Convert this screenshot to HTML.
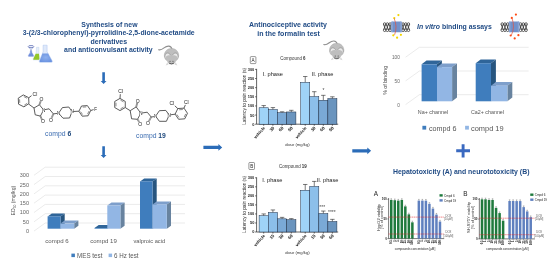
<!DOCTYPE html>
<html lang="en"><head><meta charset="utf-8"><title>Graphical abstract</title>
<style>html,body{margin:0;padding:0;background:#fff;}body{width:550px;height:280px;overflow:hidden;}svg{display:block;}svg text{font-family:"Liberation Sans", sans-serif;}</style></head><body>
<svg width="550" height="280" viewBox="0 0 550 280">
<rect width="550" height="280" fill="#fff"/>
<g id="left-title">
<text x="109.40" y="26.50" font-size="7.1" fill="#1f4a84" text-anchor="middle" font-weight="bold" textLength="56.2" lengthAdjust="spacingAndGlyphs">Synthesis of new</text>
<text x="108.70" y="35.30" font-size="7.1" fill="#1f4a84" text-anchor="middle" font-weight="bold" textLength="172" lengthAdjust="spacingAndGlyphs">3-(2/3-chlorophenyl)-pyrrolidine-2,5-dione-acetamide</text>
<text x="108.80" y="43.80" font-size="7.1" fill="#1f4a84" text-anchor="middle" font-weight="bold" textLength="36.6" lengthAdjust="spacingAndGlyphs">derivatives</text>
<text x="108.40" y="52.00" font-size="7.1" fill="#1f4a84" text-anchor="middle" font-weight="bold" textLength="88.6" lengthAdjust="spacingAndGlyphs">and anticonvulsant activity</text>
</g>
<defs><radialGradient id="liq" cx="0.5" cy="0.45" r="0.6"><stop offset="0" stop-color="#8db0ee"/><stop offset="1" stop-color="#6a92e0"/></radialGradient></defs>
<g id="flasks" transform="translate(0,0.4)">
<path d="M28.6,46.6 L30.5,49.2 L30.5,50.6 L31.5,50.6 L31.5,49.2 L33.4,46.6 Z" fill="#dfe6f7" stroke="#7d8fc8" stroke-width="0.4"/>
<ellipse cx="31" cy="46.2" rx="2.8" ry="1.1" fill="#f2f5fc" stroke="#5566b0" stroke-width="0.7"/>
<path d="M30.3,50.4 L31.7,50.4 L31.9,52 L33.7,55.2 Q33.9,56.1 33.1,56.1 L28.9,56.1 Q28.1,56.1 28.3,55.2 L30.1,52 Z" fill="#6f8ddb" stroke="#93a9e6" stroke-width="0.4"/>
<path d="M29.6,53.6 L30.5,52.2" stroke="#c5d2f3" stroke-width="0.5"/>
<path d="M36.5,46.9 L38.9,46.9 L38.9,52.6 L39.6,58.6 Q39.6,59.5 38.7,59.5 L33.6,59.5 Q32.7,59.4 33.1,58.5 L36.1,52.8 Z" fill="#e6eefa" stroke="#b9cdec" stroke-width="0.4"/>
<path d="M35.7,53.4 L39.0,53.4 L39.4,58.6 Q39.4,59.3 38.7,59.3 L33.8,59.3 Q33.0,59.2 33.3,58.5 Z" fill="#93c62a"/>
<path d="M43.1,44.8 L47.1,44.8 L47.1,51.4 L52.3,60.6 Q52.7,62 51.4,62 L40.1,62 Q38.8,62 39.3,60.6 L43.1,51.4 Z" fill="#dfe9fa" stroke="#a9c3ee" stroke-width="0.5"/>
<path d="M42.5,53.2 L48.1,53.2 L52.0,60.6 Q52.3,61.7 51.3,61.7 L40.2,61.7 Q39.3,61.7 39.6,60.6 Z" fill="url(#liq)"/>
</g>
<g transform="translate(171.50,55.50) scale(0.98,0.96)">
<path d="M0.4,-6.8 C-0.4,-10.8 -4.8,-10.2 -7.6,-7.9 C-9.6,-6.3 -11,-5.2 -13.1,-6" fill="none" stroke="#8f8f8f" stroke-width="1.2" stroke-linecap="round"/>
<path d="M-4.4,7.4 L-6,10.4 L-3.0,9.4 Z M4.4,7.4 L6,10.4 L3.0,9.4 Z" fill="#d6d6d6"/>
<path d="M0,-7.3 C4.6,-7.3 7.4,-3.9 7.3,0.3 C7.2,3.3 5.6,5 4,5.8 C3.6,8 2,9.1 0,9.1 C-2,9.1 -3.6,8 -4,5.8 C-5.6,5 -7.2,3.3 -7.3,0.3 C-7.4,-3.9 -4.6,-7.3 0,-7.3 Z" fill="#bebebe" stroke="#a6a6a6" stroke-width="0.5"/>
<g transform="translate(0,-1.5) scale(1.0,1.25)">
<path d="M-6.6,3.4 C-7,-0.6 -3.2,-1.8 -1.0,1.4 C-2.6,0.6 -5.4,1 -6.6,3.4 Z" fill="#e9e9e9"/>
<path d="M6.6,3.4 C7,-0.6 3.2,-1.8 1.0,1.4 C2.6,0.6 5.4,1 6.6,3.4 Z" fill="#e9e9e9"/>
<path d="M-6.8,2.6 C-7,-1.2 -3.2,-2.4 -0.9,0.9" fill="none" stroke="#969696" stroke-width="0.5"/>
<path d="M6.8,2.6 C7,-1.2 3.2,-2.4 0.9,0.9" fill="none" stroke="#969696" stroke-width="0.5"/>
</g>
<circle cx="-1.5" cy="6.0" r="0.55" fill="#444"/><circle cx="1.5" cy="6.0" r="0.55" fill="#444"/>
<path d="M-2.6,7.9 Q0,9.4 2.6,7.9" stroke="#4a4a4a" stroke-width="0.8" fill="none"/>
</g>
<path d="M102.3,72.3 L104.89999999999999,72.3 L104.89999999999999,81.0 L106.5,81.0 L103.6,84 L100.69999999999999,81.0 L102.3,81.0 Z" fill="#2b6cb8"/>
<g id="mol6">
<path d="M28.95,103.62 L23.91,106.89 L18.57,104.17 L18.25,98.18 L23.29,94.91 L28.63,97.63 Z" fill="none" stroke="#333333" stroke-width="0.8"/>
<path d="M27.22,103.25 L24.28,105.17" stroke="#333333" stroke-width="0.55"/>
<path d="M19.75,102.86 L19.57,99.35" stroke="#333333" stroke-width="0.55"/>
<path d="M23.83,96.59 L26.96,98.18" stroke="#333333" stroke-width="0.55"/>
<path d="M28.90,97.70 L31.60,95.60" fill="none" stroke="#333333" stroke-width="0.8"/>
<rect x="31.90" y="91.90" width="6.00" height="4.20" fill="#fff"/>
<text x="34.90" y="95.80" font-size="5.0" fill="#222" text-anchor="middle">Cl</text>
<path d="M28.70,104.10 L34.00,108.00" fill="none" stroke="#333333" stroke-width="0.8"/>
<path d="M34.00,108.00 L39.40,104.80 L43.60,109.90 L40.40,116.10 L35.20,114.80 L34.00,108.00" fill="none" stroke="#333333" stroke-width="0.8"/>
<path d="M39.82,104.95 L41.32,100.75" fill="none" stroke="#333333" stroke-width="0.55"/>
<path d="M38.98,104.65 L40.48,100.45" fill="none" stroke="#333333" stroke-width="0.55"/>
<rect x="40.00" y="96.90" width="3.00" height="4.20" fill="#fff"/>
<text x="41.50" y="100.80" font-size="5.0" fill="#222" text-anchor="middle">O</text>
<path d="M39.99,116.28 L41.79,120.38" fill="none" stroke="#333333" stroke-width="0.55"/>
<path d="M40.81,115.92 L42.61,120.02" fill="none" stroke="#333333" stroke-width="0.55"/>
<rect x="41.40" y="119.50" width="3.00" height="4.20" fill="#fff"/>
<text x="42.90" y="123.40" font-size="5.0" fill="#222" text-anchor="middle">O</text>
<path d="M43.60,109.90 L49.10,108.80 L53.40,113.90 L58.60,113.20" fill="none" stroke="#333333" stroke-width="0.8"/>
<path d="M52.99,113.72 L51.09,118.02" fill="none" stroke="#333333" stroke-width="0.55"/>
<path d="M53.81,114.08 L51.91,118.38" fill="none" stroke="#333333" stroke-width="0.55"/>
<rect x="49.40" y="117.80" width="3.00" height="4.20" fill="#fff"/>
<text x="50.90" y="121.70" font-size="5.0" fill="#222" text-anchor="middle">O</text>
<path d="M58.60,113.20 L62.40,107.60 L68.80,107.00 L72.00,111.50 L69.60,118.00 L63.00,118.20 L58.60,113.20" fill="none" stroke="#333333" stroke-width="0.8"/>
<rect x="42.25" y="108.21" width="2.70" height="3.78" fill="#fff"/>
<text x="43.60" y="111.72" font-size="4.5" fill="#222" text-anchor="middle">N</text>
<rect x="57.25" y="111.31" width="2.70" height="3.78" fill="#fff"/>
<text x="58.60" y="114.82" font-size="4.5" fill="#222" text-anchor="middle">N</text>
<rect x="70.65" y="109.61" width="2.70" height="3.78" fill="#fff"/>
<text x="72.00" y="113.12" font-size="4.5" fill="#222" text-anchor="middle">N</text>
<path d="M73.30,111.50 L78.90,111.20" fill="none" stroke="#333333" stroke-width="0.8"/>
<path d="M90.69,110.49 L88.10,115.79 L82.21,116.20 L78.91,111.31 L81.50,106.01 L87.39,105.60 Z" fill="none" stroke="#333333" stroke-width="0.8"/>
<path d="M89.05,111.05 L87.53,114.15" stroke="#333333" stroke-width="0.55"/>
<path d="M82.55,114.50 L80.62,111.64" stroke="#333333" stroke-width="0.55"/>
<path d="M82.81,107.15 L86.25,106.91" stroke="#333333" stroke-width="0.55"/>
<path d="M90.70,110.50 L93.60,109.60" fill="none" stroke="#333333" stroke-width="0.8"/>
<rect x="94.25" y="107.31" width="2.70" height="3.78" fill="#fff"/>
<text x="95.60" y="110.82" font-size="4.5" fill="#222" text-anchor="middle">F</text>
</g>
<text x="58.20" y="136.30" font-size="6.9" fill="#3b6cb0" text-anchor="middle" textLength="26.2" lengthAdjust="spacingAndGlyphs">compd <tspan font-weight="bold" fill="#1f497d">6</tspan></text>
<g id="mol19">
<path d="M125.28,107.55 L120.00,110.60 L114.72,107.55 L114.72,101.45 L120.00,98.40 L125.28,101.45 Z" fill="none" stroke="#333333" stroke-width="0.8"/>
<path d="M123.55,107.08 L120.46,108.87" stroke="#333333" stroke-width="0.55"/>
<path d="M115.99,106.29 L115.99,102.71" stroke="#333333" stroke-width="0.55"/>
<path d="M120.46,100.13 L123.55,101.92" stroke="#333333" stroke-width="0.55"/>
<path d="M120.00,98.40 L120.30,94.20" fill="none" stroke="#333333" stroke-width="0.8"/>
<rect x="117.60" y="89.40" width="6.00" height="4.20" fill="#fff"/>
<text x="120.60" y="93.30" font-size="5.0" fill="#222" text-anchor="middle">Cl</text>
<path d="M125.30,107.60 L130.20,110.70" fill="none" stroke="#333333" stroke-width="0.8"/>
<path d="M130.20,110.70 L136.20,106.90 L140.80,113.20 L137.50,119.30 L131.60,118.80 L130.20,110.70" fill="none" stroke="#333333" stroke-width="0.8"/>
<path d="M136.63,107.02 L137.73,102.92" fill="none" stroke="#333333" stroke-width="0.55"/>
<path d="M135.77,106.78 L136.87,102.68" fill="none" stroke="#333333" stroke-width="0.55"/>
<rect x="136.30" y="98.80" width="3.00" height="4.20" fill="#fff"/>
<text x="137.80" y="102.70" font-size="5.0" fill="#222" text-anchor="middle">O</text>
<path d="M137.12,119.54 L139.02,122.64" fill="none" stroke="#333333" stroke-width="0.55"/>
<path d="M137.88,119.06 L139.78,122.16" fill="none" stroke="#333333" stroke-width="0.55"/>
<rect x="138.70" y="121.80" width="3.00" height="4.20" fill="#fff"/>
<text x="140.20" y="125.70" font-size="5.0" fill="#222" text-anchor="middle">O</text>
<path d="M140.80,113.20 L147.20,112.20 L151.20,117.00 L156.00,116.40" fill="none" stroke="#333333" stroke-width="0.8"/>
<path d="M150.80,116.78 L148.40,121.18" fill="none" stroke="#333333" stroke-width="0.55"/>
<path d="M151.60,117.22 L149.20,121.62" fill="none" stroke="#333333" stroke-width="0.55"/>
<rect x="146.50" y="120.90" width="3.00" height="4.20" fill="#fff"/>
<text x="148.00" y="124.80" font-size="5.0" fill="#222" text-anchor="middle">O</text>
<path d="M155.60,116.20 L159.40,110.70 L165.80,110.40 L169.20,115.00 L166.40,121.30 L159.40,121.30 L155.60,116.20" fill="none" stroke="#333333" stroke-width="0.8"/>
<rect x="139.45" y="111.51" width="2.70" height="3.78" fill="#fff"/>
<text x="140.80" y="115.02" font-size="4.5" fill="#222" text-anchor="middle">N</text>
<rect x="154.25" y="114.31" width="2.70" height="3.78" fill="#fff"/>
<text x="155.60" y="117.82" font-size="4.5" fill="#222" text-anchor="middle">N</text>
<rect x="167.85" y="113.11" width="2.70" height="3.78" fill="#fff"/>
<text x="169.20" y="116.62" font-size="4.5" fill="#222" text-anchor="middle">N</text>
<path d="M170.50,114.80 L175.10,114.20" fill="none" stroke="#333333" stroke-width="0.8"/>
<path d="M187.48,113.27 L184.77,118.84 L178.58,119.27 L175.12,114.13 L177.83,108.56 L184.02,108.13 Z" fill="none" stroke="#333333" stroke-width="0.8"/>
<path d="M185.76,113.86 L184.17,117.12" stroke="#333333" stroke-width="0.55"/>
<path d="M178.93,117.49 L176.90,114.48" stroke="#333333" stroke-width="0.55"/>
<path d="M179.20,109.76 L182.83,109.51" stroke="#333333" stroke-width="0.55"/>
<path d="M177.80,108.60 L174.60,105.60" fill="none" stroke="#333333" stroke-width="0.8"/>
<rect x="168.80" y="101.40" width="6.00" height="4.20" fill="#fff"/>
<text x="171.80" y="105.30" font-size="5.0" fill="#222" text-anchor="middle">Cl</text>
<path d="M184.00,108.10 L185.40,104.80" fill="none" stroke="#333333" stroke-width="0.8"/>
<rect x="183.30" y="100.30" width="6.00" height="4.20" fill="#fff"/>
<text x="186.30" y="104.20" font-size="5.0" fill="#222" text-anchor="middle">Cl</text>
</g>
<text x="151.00" y="138.10" font-size="6.9" fill="#3b6cb0" text-anchor="middle" textLength="29.8" lengthAdjust="spacingAndGlyphs">compd <tspan font-weight="bold" fill="#1f497d">19</tspan></text>
<path d="M102.3,146.2 L104.89999999999999,146.2 L104.89999999999999,155.1 L106.5,155.1 L103.6,158.1 L100.69999999999999,155.1 L102.3,155.1 Z" fill="#2b6cb8"/>
<g id="ed50">
<path d="M34,231.10 L45.2,223.00 L185,223.00" fill="none" stroke="#d6d6d6" stroke-width="0.5"/>
<text x="29.00" y="233.00" font-size="6.2" fill="#666" text-anchor="end" textLength="3.07" lengthAdjust="spacingAndGlyphs">0</text>
<path d="M34,221.80 L45.2,213.70 L185,213.70" fill="none" stroke="#d6d6d6" stroke-width="0.5"/>
<text x="29.00" y="223.70" font-size="6.2" fill="#666" text-anchor="end" textLength="6.14" lengthAdjust="spacingAndGlyphs">50</text>
<path d="M34,212.50 L45.2,204.40 L185,204.40" fill="none" stroke="#d6d6d6" stroke-width="0.5"/>
<text x="29.00" y="214.40" font-size="6.2" fill="#666" text-anchor="end" textLength="9.21" lengthAdjust="spacingAndGlyphs">100</text>
<path d="M34,203.20 L45.2,195.10 L185,195.10" fill="none" stroke="#d6d6d6" stroke-width="0.5"/>
<text x="29.00" y="205.10" font-size="6.2" fill="#666" text-anchor="end" textLength="9.21" lengthAdjust="spacingAndGlyphs">150</text>
<path d="M34,193.90 L45.2,185.80 L185,185.80" fill="none" stroke="#d6d6d6" stroke-width="0.5"/>
<text x="29.00" y="195.80" font-size="6.2" fill="#666" text-anchor="end" textLength="9.21" lengthAdjust="spacingAndGlyphs">200</text>
<path d="M34,184.60 L45.2,176.50 L185,176.50" fill="none" stroke="#d6d6d6" stroke-width="0.5"/>
<text x="29.00" y="186.50" font-size="6.2" fill="#666" text-anchor="end" textLength="9.21" lengthAdjust="spacingAndGlyphs">250</text>
<path d="M34,175.30 L45.2,167.20 L185,167.20" fill="none" stroke="#d6d6d6" stroke-width="0.5"/>
<text x="29.00" y="177.20" font-size="6.2" fill="#666" text-anchor="end" textLength="9.21" lengthAdjust="spacingAndGlyphs">300</text>
<text x="0.00" y="0.00" font-size="4.6" fill="#555" text-anchor="middle" textLength="29.6" lengthAdjust="spacingAndGlyphs" transform="translate(15.0,200.6) rotate(-90)">ED<tspan font-size="3" dy="0.8">50</tspan><tspan dy="-0.8"> (mg/kg)</tspan></text>
<path d="M47.60,216.40 L51.80,213.40 L64.70,213.40 L60.50,216.40 Z" fill="#2f6599"/>
<path d="M60.50,216.40 L64.70,213.40 L64.70,225.70 L60.50,228.70 Z" fill="#27557f"/>
<rect x="47.60" y="216.40" width="12.90" height="12.30" fill="#3f7dbd"/>
<path d="M60.50,223.60 L64.70,220.60 L78.40,220.60 L74.20,223.60 Z" fill="#7e9fcb"/>
<path d="M74.20,223.60 L78.40,220.60 L78.40,225.70 L74.20,228.70 Z" fill="#68839f"/>
<rect x="60.50" y="223.60" width="13.70" height="5.10" fill="#92b6e4"/>
<path d="M94.50,228.00 L98.70,225.00 L111.50,225.00 L107.30,228.00 Z" fill="#2f6599"/>
<path d="M107.30,228.00 L111.50,225.00 L111.50,225.70 L107.30,228.70 Z" fill="#27557f"/>
<rect x="94.50" y="228.00" width="12.80" height="0.70" fill="#3f7dbd"/>
<path d="M107.30,205.50 L111.50,202.50 L124.60,202.50 L120.40,205.50 Z" fill="#7e9fcb"/>
<path d="M120.40,205.50 L124.60,202.50 L124.60,225.70 L120.40,228.70 Z" fill="#68839f"/>
<rect x="107.30" y="205.50" width="13.10" height="23.20" fill="#92b6e4"/>
<path d="M140.00,181.40 L144.20,178.40 L156.70,178.40 L152.50,181.40 Z" fill="#2f6599"/>
<path d="M152.50,181.40 L156.70,178.40 L156.70,225.70 L152.50,228.70 Z" fill="#27557f"/>
<rect x="140.00" y="181.40" width="12.50" height="47.30" fill="#3f7dbd"/>
<path d="M152.50,204.40 L156.70,201.40 L171.00,201.40 L166.80,204.40 Z" fill="#7e9fcb"/>
<path d="M166.80,204.40 L171.00,201.40 L171.00,225.70 L166.80,228.70 Z" fill="#68839f"/>
<rect x="152.50" y="204.40" width="14.30" height="24.30" fill="#92b6e4"/>
<text x="57.00" y="242.50" font-size="6.1" fill="#595959" text-anchor="middle" textLength="23.4" lengthAdjust="spacingAndGlyphs">compd 6</text>
<text x="103.50" y="242.50" font-size="6.1" fill="#595959" text-anchor="middle" textLength="26.5" lengthAdjust="spacingAndGlyphs">compd 19</text>
<text x="149.30" y="242.50" font-size="6.1" fill="#595959" text-anchor="middle" textLength="31.6" lengthAdjust="spacingAndGlyphs">valproic acid</text>
<rect x="71.4" y="253.6" width="3.5" height="3.5" fill="#3f7dbd"/>
<text x="77.00" y="257.80" font-size="7.0" fill="#595959" text-anchor="start" textLength="25.4" lengthAdjust="spacingAndGlyphs">MES test</text>
<rect x="108.6" y="253.6" width="3.5" height="3.5" fill="#92b6e4"/>
<text x="114.00" y="257.80" font-size="7.0" fill="#595959" text-anchor="start" textLength="24.6" lengthAdjust="spacingAndGlyphs">6 Hz test</text>
</g>
<path d="M203.4,145.8 L218.39999999999998,145.8 L218.39999999999998,144.0 L222.2,147.4 L218.39999999999998,150.8 L218.39999999999998,149.0 L203.4,149.0 Z" fill="#2b6cb8"/>
<g id="mid-title">
<text x="288.00" y="27.20" font-size="7.6" fill="#1f4a84" text-anchor="middle" font-weight="bold" textLength="78" lengthAdjust="spacingAndGlyphs">Antinociceptive activity</text>
<text x="288.50" y="35.80" font-size="7.6" fill="#1f4a84" text-anchor="middle" font-weight="bold" textLength="62.6" lengthAdjust="spacingAndGlyphs">in the formalin test</text>
</g>
<g transform="translate(336.70,50.30) scale(0.98,0.96)">
<path d="M0.4,-6.8 C-0.4,-10.8 -4.8,-10.2 -7.6,-7.9 C-9.6,-6.3 -11,-5.2 -13.1,-6" fill="none" stroke="#8f8f8f" stroke-width="1.2" stroke-linecap="round"/>
<path d="M-4.4,7.4 L-6,10.4 L-3.0,9.4 Z M4.4,7.4 L6,10.4 L3.0,9.4 Z" fill="#d6d6d6"/>
<path d="M0,-7.3 C4.6,-7.3 7.4,-3.9 7.3,0.3 C7.2,3.3 5.6,5 4,5.8 C3.6,8 2,9.1 0,9.1 C-2,9.1 -3.6,8 -4,5.8 C-5.6,5 -7.2,3.3 -7.3,0.3 C-7.4,-3.9 -4.6,-7.3 0,-7.3 Z" fill="#bebebe" stroke="#a6a6a6" stroke-width="0.5"/>
<g transform="translate(0,-1.5) scale(1.0,1.25)">
<path d="M-6.6,3.4 C-7,-0.6 -3.2,-1.8 -1.0,1.4 C-2.6,0.6 -5.4,1 -6.6,3.4 Z" fill="#e9e9e9"/>
<path d="M6.6,3.4 C7,-0.6 3.2,-1.8 1.0,1.4 C2.6,0.6 5.4,1 6.6,3.4 Z" fill="#e9e9e9"/>
<path d="M-6.8,2.6 C-7,-1.2 -3.2,-2.4 -0.9,0.9" fill="none" stroke="#969696" stroke-width="0.5"/>
<path d="M6.8,2.6 C7,-1.2 3.2,-2.4 0.9,0.9" fill="none" stroke="#969696" stroke-width="0.5"/>
</g>
<circle cx="-1.5" cy="6.0" r="0.55" fill="#444"/><circle cx="1.5" cy="6.0" r="0.55" fill="#444"/>
<path d="M-2.6,7.9 Q0,9.4 2.6,7.9" stroke="#4a4a4a" stroke-width="0.8" fill="none"/>
</g>
<g id="formA">
<rect x="250.3" y="56.6" width="5.6" height="7" rx="0.8" fill="#fff" stroke="#333" stroke-width="0.5"/>
<text x="253.10" y="61.80" font-size="4.6" fill="#222" text-anchor="middle">A</text>
<text x="292.90" y="59.60" font-size="4.6" fill="#333" text-anchor="middle" textLength="25.3" lengthAdjust="spacingAndGlyphs">Compound <tspan font-weight="bold">6</tspan></text>
<path d="M256.6,68.90 L256.6,124.20 L338.2,124.20" fill="none" stroke="#222" stroke-width="0.7"/>
<path d="M255.00000000000003,124.20 L256.6,124.20" stroke="#222" stroke-width="0.6"/>
<text x="254.30" y="125.65" font-size="3.9" fill="#222" text-anchor="end" font-weight="bold">0</text>
<path d="M255.00000000000003,115.07 L256.6,115.07" stroke="#222" stroke-width="0.6"/>
<text x="254.30" y="116.52" font-size="3.9" fill="#222" text-anchor="end" font-weight="bold">50</text>
<path d="M255.00000000000003,105.93 L256.6,105.93" stroke="#222" stroke-width="0.6"/>
<text x="254.30" y="107.38" font-size="3.9" fill="#222" text-anchor="end" font-weight="bold">100</text>
<path d="M255.00000000000003,96.80 L256.6,96.80" stroke="#222" stroke-width="0.6"/>
<text x="254.30" y="98.25" font-size="3.9" fill="#222" text-anchor="end" font-weight="bold">150</text>
<path d="M255.00000000000003,87.67 L256.6,87.67" stroke="#222" stroke-width="0.6"/>
<text x="254.30" y="89.12" font-size="3.9" fill="#222" text-anchor="end" font-weight="bold">200</text>
<path d="M255.00000000000003,78.53 L256.6,78.53" stroke="#222" stroke-width="0.6"/>
<text x="254.30" y="79.98" font-size="3.9" fill="#222" text-anchor="end" font-weight="bold">250</text>
<path d="M255.00000000000003,69.40 L256.6,69.40" stroke="#222" stroke-width="0.6"/>
<text x="254.30" y="70.85" font-size="3.9" fill="#222" text-anchor="end" font-weight="bold">300</text>
<text x="0.00" y="0.00" font-size="4.8" fill="#333" text-anchor="middle" textLength="57" lengthAdjust="spacingAndGlyphs" transform="translate(245.6,96.30) rotate(-90)">Latency to pain reaction (s)</text>
<path d="M263.70,107.76 L263.70,105.57 M261.50,105.57 L265.90,105.57" stroke="#222" stroke-width="0.6" fill="none"/>
<rect x="259.10" y="107.76" width="9.20" height="16.44" fill="#9fd3f7" stroke="#1c2c44" stroke-width="0.5"/>
<path d="M263.70,124.20 L263.70,125.80" stroke="#222" stroke-width="0.6"/>
<text x="0.00" y="0.00" font-size="4.3" fill="#222" text-anchor="end" font-weight="bold" transform="translate(265.40,128.20) rotate(-48)">vehicle</text>
<path d="M272.90,109.59 L272.90,107.58 M270.70,107.58 L275.10,107.58" stroke="#222" stroke-width="0.6" fill="none"/>
<rect x="268.30" y="109.59" width="9.20" height="14.61" fill="#8cbfea" stroke="#1c2c44" stroke-width="0.5"/>
<path d="M272.90,124.20 L272.90,125.80" stroke="#222" stroke-width="0.6"/>
<text x="0.00" y="0.00" font-size="4.3" fill="#222" text-anchor="end" font-weight="bold" transform="translate(274.60,128.20) rotate(-48)">30</text>
<path d="M282.10,112.69 L282.10,111.78 M279.90,111.78 L284.30,111.78" stroke="#222" stroke-width="0.6" fill="none"/>
<rect x="277.50" y="112.69" width="9.20" height="11.51" fill="#7aa9d6" stroke="#1c2c44" stroke-width="0.5"/>
<path d="M282.10,124.20 L282.10,125.80" stroke="#222" stroke-width="0.6"/>
<text x="0.00" y="0.00" font-size="4.3" fill="#222" text-anchor="end" font-weight="bold" transform="translate(283.80,128.20) rotate(-48)">60</text>
<path d="M291.30,111.96 L291.30,110.32 M289.10,110.32 L293.50,110.32" stroke="#222" stroke-width="0.6" fill="none"/>
<rect x="286.70" y="111.96" width="9.20" height="12.24" fill="#6a94be" stroke="#1c2c44" stroke-width="0.5"/>
<path d="M291.30,124.20 L291.30,125.80" stroke="#222" stroke-width="0.6"/>
<text x="0.00" y="0.00" font-size="4.3" fill="#222" text-anchor="end" font-weight="bold" transform="translate(293.00,128.20) rotate(-48)">90</text>
<path d="M305.22,82.37 L305.22,76.52 M303.02,76.52 L307.42,76.52" stroke="#222" stroke-width="0.6" fill="none"/>
<rect x="300.70" y="82.37" width="9.05" height="41.83" fill="#9fd3f7" stroke="#1c2c44" stroke-width="0.5"/>
<path d="M305.22,124.20 L305.22,125.80" stroke="#222" stroke-width="0.6"/>
<text x="0.00" y="0.00" font-size="4.3" fill="#222" text-anchor="end" font-weight="bold" transform="translate(306.92,128.20) rotate(-48)">vehicle</text>
<path d="M314.27,96.62 L314.27,91.69 M312.07,91.69 L316.47,91.69" stroke="#222" stroke-width="0.6" fill="none"/>
<rect x="309.75" y="96.62" width="9.05" height="27.58" fill="#8cbfea" stroke="#1c2c44" stroke-width="0.5"/>
<path d="M314.27,124.20 L314.27,125.80" stroke="#222" stroke-width="0.6"/>
<text x="0.00" y="0.00" font-size="4.3" fill="#222" text-anchor="end" font-weight="bold" transform="translate(315.97,128.20) rotate(-48)">30</text>
<path d="M323.32,100.27 L323.32,95.34 M321.12,95.34 L325.52,95.34" stroke="#222" stroke-width="0.6" fill="none"/>
<rect x="318.80" y="100.27" width="9.05" height="23.93" fill="#7aa9d6" stroke="#1c2c44" stroke-width="0.5"/>
<path d="M323.32,124.20 L323.32,125.80" stroke="#222" stroke-width="0.6"/>
<text x="0.00" y="0.00" font-size="4.3" fill="#222" text-anchor="end" font-weight="bold" transform="translate(325.02,128.20) rotate(-48)">60</text>
<path d="M332.37,98.63 L332.37,96.80 M330.17,96.80 L334.57,96.80" stroke="#222" stroke-width="0.6" fill="none"/>
<rect x="327.85" y="98.63" width="9.05" height="25.57" fill="#6a94be" stroke="#1c2c44" stroke-width="0.5"/>
<path d="M332.37,124.20 L332.37,125.80" stroke="#222" stroke-width="0.6"/>
<text x="0.00" y="0.00" font-size="4.3" fill="#222" text-anchor="end" font-weight="bold" transform="translate(334.07,128.20) rotate(-48)">90</text>
<text x="272.90" y="76.00" font-size="5.7" fill="#222" text-anchor="middle">I. phase</text>
<text x="322.60" y="76.00" font-size="5.7" fill="#222" text-anchor="middle">II. phase</text>
<text x="323.40" y="91.90" font-size="4.9" fill="#444" text-anchor="middle">*</text>
<text x="297.40" y="146.40" font-size="4.2" fill="#333" text-anchor="middle">dose (mg/kg)</text>
</g>
<g id="formB">
<rect x="248.9" y="162.5" width="5.6" height="7" rx="0.8" fill="#fff" stroke="#333" stroke-width="0.5"/>
<text x="251.70" y="167.70" font-size="4.6" fill="#222" text-anchor="middle">B</text>
<text x="292.90" y="167.60" font-size="4.6" fill="#333" text-anchor="middle" textLength="27.8" lengthAdjust="spacingAndGlyphs">Compound <tspan font-weight="bold">19</tspan></text>
<path d="M256.6,177.30 L256.6,232.00 L338.2,232.00" fill="none" stroke="#222" stroke-width="0.7"/>
<path d="M255.00000000000003,232.00 L256.6,232.00" stroke="#222" stroke-width="0.6"/>
<text x="254.30" y="233.45" font-size="3.9" fill="#222" text-anchor="end" font-weight="bold">0</text>
<path d="M255.00000000000003,222.97 L256.6,222.97" stroke="#222" stroke-width="0.6"/>
<text x="254.30" y="224.42" font-size="3.9" fill="#222" text-anchor="end" font-weight="bold">50</text>
<path d="M255.00000000000003,213.93 L256.6,213.93" stroke="#222" stroke-width="0.6"/>
<text x="254.30" y="215.38" font-size="3.9" fill="#222" text-anchor="end" font-weight="bold">100</text>
<path d="M255.00000000000003,204.90 L256.6,204.90" stroke="#222" stroke-width="0.6"/>
<text x="254.30" y="206.35" font-size="3.9" fill="#222" text-anchor="end" font-weight="bold">150</text>
<path d="M255.00000000000003,195.87 L256.6,195.87" stroke="#222" stroke-width="0.6"/>
<text x="254.30" y="197.32" font-size="3.9" fill="#222" text-anchor="end" font-weight="bold">200</text>
<path d="M255.00000000000003,186.83 L256.6,186.83" stroke="#222" stroke-width="0.6"/>
<text x="254.30" y="188.28" font-size="3.9" fill="#222" text-anchor="end" font-weight="bold">250</text>
<path d="M255.00000000000003,177.80 L256.6,177.80" stroke="#222" stroke-width="0.6"/>
<text x="254.30" y="179.25" font-size="3.9" fill="#222" text-anchor="end" font-weight="bold">300</text>
<text x="0.00" y="0.00" font-size="4.8" fill="#333" text-anchor="middle" textLength="57" lengthAdjust="spacingAndGlyphs" transform="translate(245.6,204.40) rotate(-90)">Latency to pain reaction (s)</text>
<path d="M263.70,215.74 L263.70,213.93 M261.50,213.93 L265.90,213.93" stroke="#222" stroke-width="0.6" fill="none"/>
<rect x="259.10" y="215.74" width="9.20" height="16.26" fill="#9fd3f7" stroke="#1c2c44" stroke-width="0.5"/>
<path d="M263.70,232.00 L263.70,233.60" stroke="#222" stroke-width="0.6"/>
<text x="0.00" y="0.00" font-size="4.3" fill="#222" text-anchor="end" font-weight="bold" transform="translate(265.40,236.00) rotate(-48)">vehicle</text>
<path d="M272.90,212.49 L272.90,209.96 M270.70,209.96 L275.10,209.96" stroke="#222" stroke-width="0.6" fill="none"/>
<rect x="268.30" y="212.49" width="9.20" height="19.51" fill="#8cbfea" stroke="#1c2c44" stroke-width="0.5"/>
<path d="M272.90,232.00 L272.90,233.60" stroke="#222" stroke-width="0.6"/>
<text x="0.00" y="0.00" font-size="4.3" fill="#222" text-anchor="end" font-weight="bold" transform="translate(274.60,236.00) rotate(-48)">15</text>
<path d="M282.10,218.81 L282.10,217.37 M279.90,217.37 L284.30,217.37" stroke="#222" stroke-width="0.6" fill="none"/>
<rect x="277.50" y="218.81" width="9.20" height="13.19" fill="#7aa9d6" stroke="#1c2c44" stroke-width="0.5"/>
<path d="M282.10,232.00 L282.10,233.60" stroke="#222" stroke-width="0.6"/>
<text x="0.00" y="0.00" font-size="4.3" fill="#222" text-anchor="end" font-weight="bold" transform="translate(283.80,236.00) rotate(-48)">30</text>
<path d="M291.30,219.71 L291.30,218.63 M289.10,218.63 L293.50,218.63" stroke="#222" stroke-width="0.6" fill="none"/>
<rect x="286.70" y="219.71" width="9.20" height="12.29" fill="#6a94be" stroke="#1c2c44" stroke-width="0.5"/>
<path d="M291.30,232.00 L291.30,233.60" stroke="#222" stroke-width="0.6"/>
<text x="0.00" y="0.00" font-size="4.3" fill="#222" text-anchor="end" font-weight="bold" transform="translate(293.00,236.00) rotate(-48)">60</text>
<path d="M305.22,190.27 L305.22,184.48 M303.02,184.48 L307.42,184.48" stroke="#222" stroke-width="0.6" fill="none"/>
<rect x="300.70" y="190.27" width="9.05" height="41.73" fill="#9fd3f7" stroke="#1c2c44" stroke-width="0.5"/>
<path d="M305.22,232.00 L305.22,233.60" stroke="#222" stroke-width="0.6"/>
<text x="0.00" y="0.00" font-size="4.3" fill="#222" text-anchor="end" font-weight="bold" transform="translate(306.92,236.00) rotate(-48)">vehicle</text>
<path d="M314.27,186.47 L314.27,181.41 M312.07,181.41 L316.47,181.41" stroke="#222" stroke-width="0.6" fill="none"/>
<rect x="309.75" y="186.47" width="9.05" height="45.53" fill="#8cbfea" stroke="#1c2c44" stroke-width="0.5"/>
<path d="M314.27,232.00 L314.27,233.60" stroke="#222" stroke-width="0.6"/>
<text x="0.00" y="0.00" font-size="4.3" fill="#222" text-anchor="end" font-weight="bold" transform="translate(315.97,236.00) rotate(-48)">15</text>
<path d="M323.32,213.57 L323.32,211.04 M321.12,211.04 L325.52,211.04" stroke="#222" stroke-width="0.6" fill="none"/>
<rect x="318.80" y="213.57" width="9.05" height="18.43" fill="#7aa9d6" stroke="#1c2c44" stroke-width="0.5"/>
<path d="M323.32,232.00 L323.32,233.60" stroke="#222" stroke-width="0.6"/>
<text x="0.00" y="0.00" font-size="4.3" fill="#222" text-anchor="end" font-weight="bold" transform="translate(325.02,236.00) rotate(-48)">30</text>
<path d="M332.37,221.52 L332.37,219.35 M330.17,219.35 L334.57,219.35" stroke="#222" stroke-width="0.6" fill="none"/>
<rect x="327.85" y="221.52" width="9.05" height="10.48" fill="#6a94be" stroke="#1c2c44" stroke-width="0.5"/>
<path d="M332.37,232.00 L332.37,233.60" stroke="#222" stroke-width="0.6"/>
<text x="0.00" y="0.00" font-size="4.3" fill="#222" text-anchor="end" font-weight="bold" transform="translate(334.07,236.00) rotate(-48)">60</text>
<text x="272.40" y="182.00" font-size="5.7" fill="#222" text-anchor="middle">I. phase</text>
<text x="327.60" y="182.00" font-size="5.7" fill="#222" text-anchor="middle">II. phase</text>
<text x="322.20" y="209.20" font-size="4.9" fill="#444" text-anchor="middle">***</text>
<text x="331.80" y="214.20" font-size="4.9" fill="#444" text-anchor="middle">****</text>
<text x="297.40" y="254.20" font-size="4.2" fill="#333" text-anchor="middle">dose (mg/kg)</text>
</g>
<path d="M352.3,149.20000000000002 L367.3,149.20000000000002 L367.3,147.4 L371.1,150.8 L367.3,154.20000000000002 L367.3,152.4 L352.3,152.4 Z" fill="#2b6cb8"/>
<g transform="translate(383.2,0)">
<rect x="0.3" y="23.6" width="26" height="7.1" fill="#fff"/>
<path d="M0.25,24.4 L2.65,29.9 M2.65,24.4 L0.25,29.9" stroke="#000" stroke-width="0.6" fill="none"/>
<circle cx="1.45" cy="24.0" r="1.25" fill="#fff" stroke="#000" stroke-width="0.6"/>
<circle cx="1.45" cy="30.3" r="1.25" fill="#fff" stroke="#000" stroke-width="0.6"/>
<path d="M2.95,24.4 L5.35,29.9 M5.35,24.4 L2.95,29.9" stroke="#000" stroke-width="0.6" fill="none"/>
<circle cx="4.15" cy="24.0" r="1.25" fill="#fff" stroke="#000" stroke-width="0.6"/>
<circle cx="4.15" cy="30.3" r="1.25" fill="#fff" stroke="#000" stroke-width="0.6"/>
<path d="M5.65,24.4 L8.05,29.9 M8.05,24.4 L5.65,29.9" stroke="#000" stroke-width="0.6" fill="none"/>
<circle cx="6.85" cy="24.0" r="1.25" fill="#fff" stroke="#000" stroke-width="0.6"/>
<circle cx="6.85" cy="30.3" r="1.25" fill="#fff" stroke="#000" stroke-width="0.6"/>
<path d="M18.65,24.4 L21.05,29.9 M21.05,24.4 L18.65,29.9" stroke="#000" stroke-width="0.6" fill="none"/>
<circle cx="19.85" cy="24.0" r="1.25" fill="#fff" stroke="#000" stroke-width="0.6"/>
<circle cx="19.85" cy="30.3" r="1.25" fill="#fff" stroke="#000" stroke-width="0.6"/>
<path d="M21.35,24.4 L23.75,29.9 M23.75,24.4 L21.35,29.9" stroke="#000" stroke-width="0.6" fill="none"/>
<circle cx="22.55" cy="24.0" r="1.25" fill="#fff" stroke="#000" stroke-width="0.6"/>
<circle cx="22.55" cy="30.3" r="1.25" fill="#fff" stroke="#000" stroke-width="0.6"/>
<path d="M24.05,24.4 L26.45,29.9 M26.45,24.4 L24.05,29.9" stroke="#000" stroke-width="0.6" fill="none"/>
<circle cx="25.25" cy="24.0" r="1.25" fill="#fff" stroke="#000" stroke-width="0.6"/>
<circle cx="25.25" cy="30.3" r="1.25" fill="#fff" stroke="#000" stroke-width="0.6"/>
<rect x="8.1" y="21.4" width="10.5" height="10.9" rx="0.9" fill="#7191cb"/>
<rect x="8.1" y="21.4" width="1.6" height="10.9" rx="0.8" fill="#89a3d3"/>
<rect x="17" y="21.4" width="1.6" height="10.9" rx="0.8" fill="#89a3d3"/>
</g>
<circle cx="398.4" cy="15.1" r="1.1" fill="#f2d500"/>
<circle cx="394.3" cy="18.1" r="1.1" fill="#f2d500"/>
<circle cx="393.3" cy="35.3" r="1.1" fill="#f2d500"/>
<circle cx="400.9" cy="34.8" r="1.1" fill="#f2d500"/>
<circle cx="397.1" cy="37.7" r="1.1" fill="#f2d500"/>
<path d="M394.2,18.4 Q397.6,27 394.6,34.8" fill="none" stroke="#e2523c" stroke-width="0.7"/>
<g transform="translate(500.8,0)">
<rect x="0.3" y="23.6" width="26" height="7.1" fill="#fff"/>
<path d="M0.25,24.4 L2.65,29.9 M2.65,24.4 L0.25,29.9" stroke="#000" stroke-width="0.6" fill="none"/>
<circle cx="1.45" cy="24.0" r="1.25" fill="#fff" stroke="#000" stroke-width="0.6"/>
<circle cx="1.45" cy="30.3" r="1.25" fill="#fff" stroke="#000" stroke-width="0.6"/>
<path d="M2.95,24.4 L5.35,29.9 M5.35,24.4 L2.95,29.9" stroke="#000" stroke-width="0.6" fill="none"/>
<circle cx="4.15" cy="24.0" r="1.25" fill="#fff" stroke="#000" stroke-width="0.6"/>
<circle cx="4.15" cy="30.3" r="1.25" fill="#fff" stroke="#000" stroke-width="0.6"/>
<path d="M5.65,24.4 L8.05,29.9 M8.05,24.4 L5.65,29.9" stroke="#000" stroke-width="0.6" fill="none"/>
<circle cx="6.85" cy="24.0" r="1.25" fill="#fff" stroke="#000" stroke-width="0.6"/>
<circle cx="6.85" cy="30.3" r="1.25" fill="#fff" stroke="#000" stroke-width="0.6"/>
<path d="M18.65,24.4 L21.05,29.9 M21.05,24.4 L18.65,29.9" stroke="#000" stroke-width="0.6" fill="none"/>
<circle cx="19.85" cy="24.0" r="1.25" fill="#fff" stroke="#000" stroke-width="0.6"/>
<circle cx="19.85" cy="30.3" r="1.25" fill="#fff" stroke="#000" stroke-width="0.6"/>
<path d="M21.35,24.4 L23.75,29.9 M23.75,24.4 L21.35,29.9" stroke="#000" stroke-width="0.6" fill="none"/>
<circle cx="22.55" cy="24.0" r="1.25" fill="#fff" stroke="#000" stroke-width="0.6"/>
<circle cx="22.55" cy="30.3" r="1.25" fill="#fff" stroke="#000" stroke-width="0.6"/>
<path d="M24.05,24.4 L26.45,29.9 M26.45,24.4 L24.05,29.9" stroke="#000" stroke-width="0.6" fill="none"/>
<circle cx="25.25" cy="24.0" r="1.25" fill="#fff" stroke="#000" stroke-width="0.6"/>
<circle cx="25.25" cy="30.3" r="1.25" fill="#fff" stroke="#000" stroke-width="0.6"/>
<rect x="8.1" y="21.4" width="10.5" height="10.9" rx="0.9" fill="#7191cb"/>
<rect x="8.1" y="21.4" width="1.6" height="10.9" rx="0.8" fill="#89a3d3"/>
<rect x="17" y="21.4" width="1.6" height="10.9" rx="0.8" fill="#89a3d3"/>
</g>
<circle cx="515.9" cy="14.6" r="1.1" fill="#ff4a12"/>
<circle cx="511.8" cy="17.9" r="1.1" fill="#ff4a12"/>
<circle cx="510.7" cy="35.5" r="1.1" fill="#ff4a12"/>
<circle cx="518.4" cy="35.2" r="1.1" fill="#ff4a12"/>
<circle cx="514.7" cy="38.4" r="1.1" fill="#ff4a12"/>
<path d="M512.0,18.2 Q515.2,27 511.4,35.2" fill="none" stroke="#e2523c" stroke-width="0.7"/>
<text x="417.00" y="29.20" font-size="7.4" fill="#1f4a84" text-anchor="start" font-weight="bold" textLength="74.8" lengthAdjust="spacingAndGlyphs"><tspan font-style="italic">In vitro</tspan> binding assays</text>
<g id="binding">
<path d="M405.6,104.60 L419.4,94.70 L528.6,94.70" fill="none" stroke="#d6d6d6" stroke-width="0.5"/>
<text x="399.80" y="106.60" font-size="5.9" fill="#666" text-anchor="end" textLength="2.63" lengthAdjust="spacingAndGlyphs">0</text>
<path d="M405.6,80.90 L419.4,71.00 L528.6,71.00" fill="none" stroke="#d6d6d6" stroke-width="0.5"/>
<text x="399.80" y="82.90" font-size="5.9" fill="#666" text-anchor="end" textLength="5.26" lengthAdjust="spacingAndGlyphs">50</text>
<path d="M405.6,57.20 L419.4,47.30 L528.6,47.30" fill="none" stroke="#d6d6d6" stroke-width="0.5"/>
<text x="399.80" y="59.20" font-size="5.9" fill="#666" text-anchor="end" textLength="7.89" lengthAdjust="spacingAndGlyphs">100</text>
<text x="0.00" y="0.00" font-size="5.0" fill="#444" text-anchor="middle" textLength="29" lengthAdjust="spacingAndGlyphs" transform="translate(387.1,80.3) rotate(-90)">% of binding</text>
<path d="M421.60,64.30 L426.50,60.60 L441.90,60.60 L437.00,64.30 Z" fill="#2f6599"/>
<path d="M437.00,64.30 L441.90,60.60 L441.90,97.60 L437.00,101.30 Z" fill="#27557f"/>
<rect x="421.60" y="64.30" width="15.40" height="37.00" fill="#3f7dbd"/>
<path d="M437.00,67.10 L441.90,63.40 L457.00,63.40 L452.10,67.10 Z" fill="#7e9fcb"/>
<path d="M452.10,67.10 L457.00,63.40 L457.00,97.60 L452.10,101.30 Z" fill="#68839f"/>
<rect x="437.00" y="67.10" width="15.10" height="34.20" fill="#92b6e4"/>
<path d="M475.70,63.20 L480.60,59.50 L495.90,59.50 L491.00,63.20 Z" fill="#2f6599"/>
<path d="M491.00,63.20 L495.90,59.50 L495.90,97.60 L491.00,101.30 Z" fill="#27557f"/>
<rect x="475.70" y="63.20" width="15.30" height="38.10" fill="#3f7dbd"/>
<path d="M491.00,85.70 L495.90,82.00 L512.30,82.00 L507.40,85.70 Z" fill="#7e9fcb"/>
<path d="M507.40,85.70 L512.30,82.00 L512.30,97.60 L507.40,101.30 Z" fill="#68839f"/>
<rect x="491.00" y="85.70" width="16.40" height="15.60" fill="#92b6e4"/>
<text x="433.00" y="113.80" font-size="5.2" fill="#555" text-anchor="middle" textLength="30.4" lengthAdjust="spacingAndGlyphs">Na+ channel</text>
<text x="487.50" y="113.80" font-size="5.2" fill="#555" text-anchor="middle" textLength="33.0" lengthAdjust="spacingAndGlyphs">Ca2+ channel</text>
<rect x="422.4" y="125.8" width="3.8" height="3.8" fill="#3f7dbd"/>
<text x="429.00" y="130.50" font-size="7.8" fill="#555" text-anchor="start" textLength="27.6" lengthAdjust="spacingAndGlyphs">compd 6</text>
<rect x="465.1" y="125.8" width="3.8" height="3.8" fill="#92b6e4"/>
<text x="471.00" y="130.50" font-size="7.8" fill="#555" text-anchor="start" textLength="32.6" lengthAdjust="spacingAndGlyphs">compd 19</text>
</g>
<path d="M456.2,150.8 L470,150.8 M463.1,144.3 L463.1,157.4" stroke="#3a69c0" stroke-width="2.9" fill="none"/>
<text x="461.20" y="174.00" font-size="7" fill="#1f4a84" text-anchor="middle" font-weight="bold" textLength="136.5" lengthAdjust="spacingAndGlyphs">Hepatotoxicity (A) and neurototoxicity (B)</text>
<g id="toxA">
<text x="376.00" y="195.70" font-size="6.4" fill="#222" text-anchor="middle">A</text>
<path d="M388.60,198 L388.60,238.6 L444.20,238.6" fill="none" stroke="#222" stroke-width="0.6"/>
<path d="M387.40,238.60 L388.60,238.60" stroke="#222" stroke-width="0.5"/>
<text x="386.80" y="239.65" font-size="3.0" fill="#222" text-anchor="end" font-weight="bold">0</text>
<path d="M387.40,218.95 L388.60,218.95" stroke="#222" stroke-width="0.5"/>
<text x="386.80" y="220.00" font-size="3.0" fill="#222" text-anchor="end" font-weight="bold">50</text>
<path d="M387.40,199.30 L388.60,199.30" stroke="#222" stroke-width="0.5"/>
<text x="386.80" y="200.35" font-size="3.0" fill="#222" text-anchor="end" font-weight="bold">100</text>
<text x="0.00" y="0.00" font-size="3.3" fill="#333" text-anchor="middle" textLength="27" lengthAdjust="spacingAndGlyphs" transform="translate(379.50,217.5) rotate(-90)">HepG2 viability</text>
<text x="0.00" y="0.00" font-size="3.3" fill="#333" text-anchor="middle" textLength="23" lengthAdjust="spacingAndGlyphs" transform="translate(383.20,217.5) rotate(-90)">[% of control]</text>
<path d="M391.25,199.93 L391.25,198.73 M390.50,198.73 L392.00,198.73" stroke="#333" stroke-width="0.3"/>
<rect x="390.00" y="199.93" width="2.5" height="38.67" fill="#1f7a3d"/>
<path d="M391.25,238.60 L391.25,239.60" stroke="#222" stroke-width="0.4"/>
<text x="0.00" y="0.00" font-size="2.7" fill="#000" text-anchor="end" font-weight="bold" transform="translate(392.15,240.30) rotate(-90)">0.5</text>
<path d="M394.77,200.20 L394.77,199.00 M394.02,199.00 L395.52,199.00" stroke="#333" stroke-width="0.3"/>
<rect x="393.52" y="200.20" width="2.5" height="38.40" fill="#1f7a3d"/>
<path d="M394.77,238.60 L394.77,239.60" stroke="#222" stroke-width="0.4"/>
<text x="0.00" y="0.00" font-size="2.7" fill="#000" text-anchor="end" font-weight="bold" transform="translate(395.67,240.30) rotate(-90)">1</text>
<path d="M398.29,200.60 L398.29,199.40 M397.54,199.40 L399.04,199.40" stroke="#333" stroke-width="0.3"/>
<rect x="397.04" y="200.60" width="2.5" height="38.00" fill="#1f7a3d"/>
<path d="M398.29,238.60 L398.29,239.60" stroke="#222" stroke-width="0.4"/>
<text x="0.00" y="0.00" font-size="2.7" fill="#000" text-anchor="end" font-weight="bold" transform="translate(399.19,240.30) rotate(-90)">5</text>
<path d="M401.81,199.93 L401.81,198.73 M401.06,198.73 L402.56,198.73" stroke="#333" stroke-width="0.3"/>
<rect x="400.56" y="199.93" width="2.5" height="38.67" fill="#1f7a3d"/>
<path d="M401.81,238.60 L401.81,239.60" stroke="#222" stroke-width="0.4"/>
<text x="0.00" y="0.00" font-size="2.7" fill="#000" text-anchor="end" font-weight="bold" transform="translate(402.71,240.30) rotate(-90)">10</text>
<path d="M405.33,206.37 L405.33,205.17 M404.58,205.17 L406.08,205.17" stroke="#333" stroke-width="0.3"/>
<rect x="404.08" y="206.37" width="2.5" height="32.23" fill="#1f7a3d"/>
<path d="M405.33,238.60 L405.33,239.60" stroke="#222" stroke-width="0.4"/>
<text x="0.00" y="0.00" font-size="2.7" fill="#000" text-anchor="end" font-weight="bold" transform="translate(406.23,240.30) rotate(-90)">25</text>
<path d="M408.85,214.35 L408.85,213.15 M408.10,213.15 L409.60,213.15" stroke="#333" stroke-width="0.3"/>
<rect x="407.60" y="214.35" width="2.5" height="24.25" fill="#1f7a3d"/>
<path d="M408.85,238.60 L408.85,239.60" stroke="#222" stroke-width="0.4"/>
<text x="0.00" y="0.00" font-size="2.7" fill="#000" text-anchor="end" font-weight="bold" transform="translate(409.75,240.30) rotate(-90)">50</text>
<path d="M412.37,222.33 L412.37,221.13 M411.62,221.13 L413.12,221.13" stroke="#333" stroke-width="0.3"/>
<rect x="411.12" y="222.33" width="2.5" height="16.27" fill="#1f7a3d"/>
<path d="M412.37,238.60 L412.37,239.60" stroke="#222" stroke-width="0.4"/>
<text x="0.00" y="0.00" font-size="2.7" fill="#000" text-anchor="end" font-weight="bold" transform="translate(413.27,240.30) rotate(-90)">100</text>
<path d="M418.85,200.60 L418.85,199.40 M418.10,199.40 L419.60,199.40" stroke="#333" stroke-width="0.3"/>
<rect x="417.60" y="200.60" width="2.5" height="38.00" fill="#5f80bf"/>
<path d="M418.85,238.60 L418.85,239.60" stroke="#222" stroke-width="0.4"/>
<text x="0.00" y="0.00" font-size="2.7" fill="#000" text-anchor="end" font-weight="bold" transform="translate(419.75,240.30) rotate(-90)">0.5</text>
<path d="M422.37,200.60 L422.37,199.40 M421.62,199.40 L423.12,199.40" stroke="#333" stroke-width="0.3"/>
<rect x="421.12" y="200.60" width="2.5" height="38.00" fill="#5f80bf"/>
<path d="M422.37,238.60 L422.37,239.60" stroke="#222" stroke-width="0.4"/>
<text x="0.00" y="0.00" font-size="2.7" fill="#000" text-anchor="end" font-weight="bold" transform="translate(423.27,240.30) rotate(-90)">1</text>
<path d="M425.89,200.68 L425.89,199.48 M425.14,199.48 L426.64,199.48" stroke="#333" stroke-width="0.3"/>
<rect x="424.64" y="200.68" width="2.5" height="37.92" fill="#5f80bf"/>
<path d="M425.89,238.60 L425.89,239.60" stroke="#222" stroke-width="0.4"/>
<text x="0.00" y="0.00" font-size="2.7" fill="#000" text-anchor="end" font-weight="bold" transform="translate(426.79,240.30) rotate(-90)">5</text>
<path d="M429.41,203.82 L429.41,202.62 M428.66,202.62 L430.16,202.62" stroke="#333" stroke-width="0.3"/>
<rect x="428.16" y="203.82" width="2.5" height="34.78" fill="#5f80bf"/>
<path d="M429.41,238.60 L429.41,239.60" stroke="#222" stroke-width="0.4"/>
<text x="0.00" y="0.00" font-size="2.7" fill="#000" text-anchor="end" font-weight="bold" transform="translate(430.31,240.30) rotate(-90)">10</text>
<path d="M432.93,208.57 L432.93,207.37 M432.18,207.37 L433.68,207.37" stroke="#333" stroke-width="0.3"/>
<rect x="431.68" y="208.57" width="2.5" height="30.03" fill="#5f80bf"/>
<path d="M432.93,238.60 L432.93,239.60" stroke="#222" stroke-width="0.4"/>
<text x="0.00" y="0.00" font-size="2.7" fill="#000" text-anchor="end" font-weight="bold" transform="translate(433.83,240.30) rotate(-90)">25</text>
<path d="M436.45,214.63 L436.45,213.43 M435.70,213.43 L437.20,213.43" stroke="#333" stroke-width="0.3"/>
<rect x="435.20" y="214.63" width="2.5" height="23.97" fill="#5f80bf"/>
<path d="M436.45,238.60 L436.45,239.60" stroke="#222" stroke-width="0.4"/>
<text x="0.00" y="0.00" font-size="2.7" fill="#000" text-anchor="end" font-weight="bold" transform="translate(437.35,240.30) rotate(-90)">50</text>
<path d="M439.97,221.54 L439.97,220.34 M439.22,220.34 L440.72,220.34" stroke="#333" stroke-width="0.3"/>
<rect x="438.72" y="221.54" width="2.5" height="17.06" fill="#5f80bf"/>
<path d="M439.97,238.60 L439.97,239.60" stroke="#222" stroke-width="0.4"/>
<text x="0.00" y="0.00" font-size="2.7" fill="#000" text-anchor="end" font-weight="bold" transform="translate(440.87,240.30) rotate(-90)">100</text>
<path d="M388.60,217.1 L443.80,217.1" stroke="#e5252b" stroke-width="0.55" stroke-dasharray="1.3,0.5"/>
<path d="M388.60,234.0 L443.80,234.0" stroke="#e5252b" stroke-width="0.55" stroke-dasharray="1.3,0.5"/>
<text x="448.40" y="216.60" font-size="2.7" fill="#555" text-anchor="middle">DOX</text>
<text x="448.40" y="220.20" font-size="2.7" fill="#555" text-anchor="middle">[10µM]</text>
<text x="448.40" y="233.20" font-size="2.7" fill="#555" text-anchor="middle">DOX</text>
<text x="448.40" y="236.80" font-size="2.7" fill="#555" text-anchor="middle">[100µM]</text>
<rect x="439.50" y="194.20" width="3.2" height="2.4" fill="#1f7a3d"/>
<text x="444.10" y="196.50" font-size="3.0" fill="#222" text-anchor="start">Cmpd 6</text>
<rect x="439.50" y="199.20" width="3.2" height="2.4" fill="#5f80bf"/>
<text x="444.10" y="201.50" font-size="3.0" fill="#222" text-anchor="start">Cmpd 19</text>
<text x="415.00" y="250.00" font-size="3.3" fill="#222" text-anchor="middle" textLength="40.5" lengthAdjust="spacingAndGlyphs">compounds concentation [µM]</text>
</g>
<g id="toxB">
<text x="465.40" y="195.70" font-size="6.4" fill="#222" text-anchor="middle">B</text>
<path d="M479.35,198 L479.35,238.9 L534.95,238.9" fill="none" stroke="#222" stroke-width="0.6"/>
<path d="M478.15,238.90 L479.35,238.90" stroke="#222" stroke-width="0.5"/>
<text x="477.55" y="239.95" font-size="3.0" fill="#222" text-anchor="end" font-weight="bold">0</text>
<path d="M478.15,219.10 L479.35,219.10" stroke="#222" stroke-width="0.5"/>
<text x="477.55" y="220.15" font-size="3.0" fill="#222" text-anchor="end" font-weight="bold">50</text>
<path d="M478.15,199.30 L479.35,199.30" stroke="#222" stroke-width="0.5"/>
<text x="477.55" y="200.35" font-size="3.0" fill="#222" text-anchor="end" font-weight="bold">100</text>
<text x="0.00" y="0.00" font-size="3.3" fill="#333" text-anchor="middle" textLength="31" lengthAdjust="spacingAndGlyphs" transform="translate(470.25,217.5) rotate(-90)">SH-SY5Y viability</text>
<text x="0.00" y="0.00" font-size="3.3" fill="#333" text-anchor="middle" textLength="23" lengthAdjust="spacingAndGlyphs" transform="translate(473.95,217.5) rotate(-90)">[% of control]</text>
<path d="M482.00,199.30 L482.00,198.10 M481.25,198.10 L482.75,198.10" stroke="#333" stroke-width="0.3"/>
<rect x="480.75" y="199.30" width="2.5" height="39.60" fill="#1f7a3d"/>
<path d="M482.00,238.90 L482.00,239.90" stroke="#222" stroke-width="0.4"/>
<text x="0.00" y="0.00" font-size="2.7" fill="#000" text-anchor="end" font-weight="bold" transform="translate(482.90,240.60) rotate(-90)">0.5</text>
<path d="M485.52,199.30 L485.52,198.10 M484.77,198.10 L486.27,198.10" stroke="#333" stroke-width="0.3"/>
<rect x="484.27" y="199.30" width="2.5" height="39.60" fill="#1f7a3d"/>
<path d="M485.52,238.90 L485.52,239.90" stroke="#222" stroke-width="0.4"/>
<text x="0.00" y="0.00" font-size="2.7" fill="#000" text-anchor="end" font-weight="bold" transform="translate(486.42,240.60) rotate(-90)">1</text>
<path d="M489.04,199.93 L489.04,198.73 M488.29,198.73 L489.79,198.73" stroke="#333" stroke-width="0.3"/>
<rect x="487.79" y="199.93" width="2.5" height="38.97" fill="#1f7a3d"/>
<path d="M489.04,238.90 L489.04,239.90" stroke="#222" stroke-width="0.4"/>
<text x="0.00" y="0.00" font-size="2.7" fill="#000" text-anchor="end" font-weight="bold" transform="translate(489.94,240.60) rotate(-90)">5</text>
<path d="M492.56,199.93 L492.56,198.73 M491.81,198.73 L493.31,198.73" stroke="#333" stroke-width="0.3"/>
<rect x="491.31" y="199.93" width="2.5" height="38.97" fill="#1f7a3d"/>
<path d="M492.56,238.90 L492.56,239.90" stroke="#222" stroke-width="0.4"/>
<text x="0.00" y="0.00" font-size="2.7" fill="#000" text-anchor="end" font-weight="bold" transform="translate(493.46,240.60) rotate(-90)">10</text>
<path d="M496.08,207.89 L496.08,206.69 M495.33,206.69 L496.83,206.69" stroke="#333" stroke-width="0.3"/>
<rect x="494.83" y="207.89" width="2.5" height="31.01" fill="#1f7a3d"/>
<path d="M496.08,238.90 L496.08,239.90" stroke="#222" stroke-width="0.4"/>
<text x="0.00" y="0.00" font-size="2.7" fill="#000" text-anchor="end" font-weight="bold" transform="translate(496.98,240.60) rotate(-90)">25</text>
<path d="M499.60,213.08 L499.60,211.88 M498.85,211.88 L500.35,211.88" stroke="#333" stroke-width="0.3"/>
<rect x="498.35" y="213.08" width="2.5" height="25.82" fill="#1f7a3d"/>
<path d="M499.60,238.90 L499.60,239.90" stroke="#222" stroke-width="0.4"/>
<text x="0.00" y="0.00" font-size="2.7" fill="#000" text-anchor="end" font-weight="bold" transform="translate(500.50,240.60) rotate(-90)">50</text>
<path d="M503.12,220.68 L503.12,219.48 M502.37,219.48 L503.87,219.48" stroke="#333" stroke-width="0.3"/>
<rect x="501.87" y="220.68" width="2.5" height="18.22" fill="#1f7a3d"/>
<path d="M503.12,238.90 L503.12,239.90" stroke="#222" stroke-width="0.4"/>
<text x="0.00" y="0.00" font-size="2.7" fill="#000" text-anchor="end" font-weight="bold" transform="translate(504.02,240.60) rotate(-90)">100</text>
<path d="M509.60,201.00 L509.60,199.80 M508.85,199.80 L510.35,199.80" stroke="#333" stroke-width="0.3"/>
<rect x="508.35" y="201.00" width="2.5" height="37.90" fill="#5f80bf"/>
<path d="M509.60,238.90 L509.60,239.90" stroke="#222" stroke-width="0.4"/>
<text x="0.00" y="0.00" font-size="2.7" fill="#000" text-anchor="end" font-weight="bold" transform="translate(510.50,240.60) rotate(-90)">0.5</text>
<path d="M513.12,201.00 L513.12,199.80 M512.37,199.80 L513.87,199.80" stroke="#333" stroke-width="0.3"/>
<rect x="511.87" y="201.00" width="2.5" height="37.90" fill="#5f80bf"/>
<path d="M513.12,238.90 L513.12,239.90" stroke="#222" stroke-width="0.4"/>
<text x="0.00" y="0.00" font-size="2.7" fill="#000" text-anchor="end" font-weight="bold" transform="translate(514.02,240.60) rotate(-90)">1</text>
<path d="M516.64,201.08 L516.64,199.88 M515.89,199.88 L517.39,199.88" stroke="#333" stroke-width="0.3"/>
<rect x="515.39" y="201.08" width="2.5" height="37.82" fill="#5f80bf"/>
<path d="M516.64,238.90 L516.64,239.90" stroke="#222" stroke-width="0.4"/>
<text x="0.00" y="0.00" font-size="2.7" fill="#000" text-anchor="end" font-weight="bold" transform="translate(517.54,240.60) rotate(-90)">5</text>
<path d="M520.16,201.08 L520.16,199.88 M519.41,199.88 L520.91,199.88" stroke="#333" stroke-width="0.3"/>
<rect x="518.91" y="201.08" width="2.5" height="37.82" fill="#5f80bf"/>
<path d="M520.16,238.90 L520.16,239.90" stroke="#222" stroke-width="0.4"/>
<text x="0.00" y="0.00" font-size="2.7" fill="#000" text-anchor="end" font-weight="bold" transform="translate(521.06,240.60) rotate(-90)">10</text>
<path d="M523.68,207.10 L523.68,205.90 M522.93,205.90 L524.43,205.90" stroke="#333" stroke-width="0.3"/>
<rect x="522.43" y="207.10" width="2.5" height="31.80" fill="#5f80bf"/>
<path d="M523.68,238.90 L523.68,239.90" stroke="#222" stroke-width="0.4"/>
<text x="0.00" y="0.00" font-size="2.7" fill="#000" text-anchor="end" font-weight="bold" transform="translate(524.58,240.60) rotate(-90)">25</text>
<path d="M527.20,211.42 L527.20,210.22 M526.45,210.22 L527.95,210.22" stroke="#333" stroke-width="0.3"/>
<rect x="525.95" y="211.42" width="2.5" height="27.48" fill="#5f80bf"/>
<path d="M527.20,238.90 L527.20,239.90" stroke="#222" stroke-width="0.4"/>
<text x="0.00" y="0.00" font-size="2.7" fill="#000" text-anchor="end" font-weight="bold" transform="translate(528.10,240.60) rotate(-90)">50</text>
<path d="M530.72,217.12 L530.72,215.92 M529.97,215.92 L531.47,215.92" stroke="#333" stroke-width="0.3"/>
<rect x="529.47" y="217.12" width="2.5" height="21.78" fill="#5f80bf"/>
<path d="M530.72,238.90 L530.72,239.90" stroke="#222" stroke-width="0.4"/>
<text x="0.00" y="0.00" font-size="2.7" fill="#000" text-anchor="end" font-weight="bold" transform="translate(531.62,240.60) rotate(-90)">100</text>
<path d="M479.35,218.2 L534.55,218.2" stroke="#e5252b" stroke-width="0.55" stroke-dasharray="1.3,0.5"/>
<path d="M479.35,234.7 L534.55,234.7" stroke="#e5252b" stroke-width="0.55" stroke-dasharray="1.3,0.5"/>
<text x="539.15" y="216.60" font-size="2.7" fill="#555" text-anchor="middle">DOX</text>
<text x="539.15" y="220.20" font-size="2.7" fill="#555" text-anchor="middle">[10µM]</text>
<text x="539.15" y="233.20" font-size="2.7" fill="#555" text-anchor="middle">DOX</text>
<text x="539.15" y="236.80" font-size="2.7" fill="#555" text-anchor="middle">[100µM]</text>
<rect x="530.25" y="193.50" width="3.2" height="2.4" fill="#1f7a3d"/>
<text x="534.85" y="195.80" font-size="3.0" fill="#222" text-anchor="start">Cmpd 6</text>
<rect x="530.25" y="198.50" width="3.2" height="2.4" fill="#5f80bf"/>
<text x="534.85" y="200.80" font-size="3.0" fill="#222" text-anchor="start">Cmpd 19</text>
<text x="507.40" y="250.00" font-size="3.3" fill="#222" text-anchor="middle" textLength="42.2" lengthAdjust="spacingAndGlyphs">compounds concentration [µM]</text>
</g>
</svg></body></html>
